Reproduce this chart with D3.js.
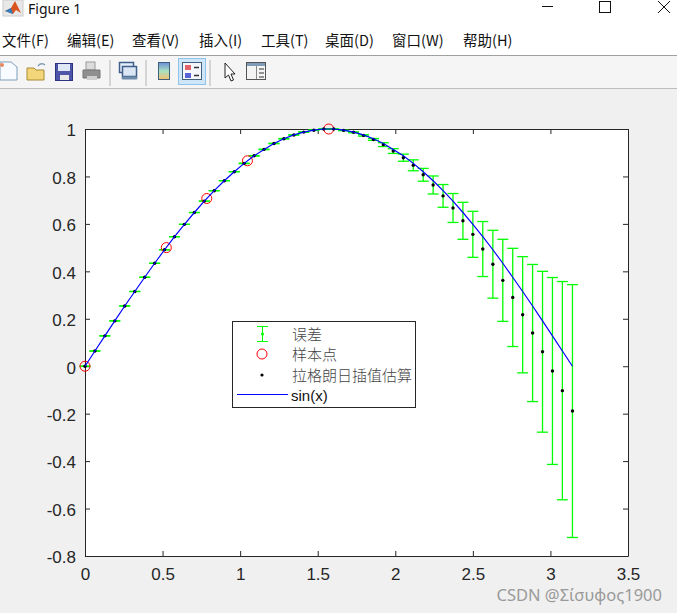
<!DOCTYPE html>
<html>
<head>
<meta charset="utf-8">
<script src="https://cdn.jsdelivr.net/npm/d3@7"></script>
<style>
    html, body { margin: 0; padding: 0; background: #f0f0f0; overflow: hidden; }
    svg { display: block; }
    .chrome { font-family: "Noto Sans CJK SC", "Noto Sans", sans-serif; font-size: 14.5px; fill: #111; }
    .tick text { font-family: "Liberation Sans", sans-serif; font-size: 17px; fill: #262626; }
</style>
</head>
<body>
<svg id="figure" width="677" height="613"></svg>
<script>
    const menuLabels = ['文件(F)', '编辑(E)', '查看(V)', '插入(I)', '工具(T)', '桌面(D)', '窗口(W)', '帮助(H)'];
    const menuLefts = [2, 67, 132, 199, 261, 325, 392, 463];
    const xTicks = [0, 0.5, 1, 1.5, 2, 2.5, 3, 3.5];
    const yTicks = [-0.8, -0.6, -0.4, -0.2, 0, 0.2, 0.4, 0.6, 0.8, 1];
    const legendLabels = ['误差', '样本点', '拉格朗日插值估算', 'sin(x)'];

    const sampleX = [0, 0.524, 0.785, 1.047, 1.571];
    const sampleY = [0, 0.5, 0.707, 0.866, 1];

    const curveX = [0, 0.064, 0.128, 0.192, 0.256, 0.321, 0.385, 0.449, 0.513, 0.577,
        0.641, 0.705, 0.769, 0.833, 0.898, 0.962, 1.026, 1.090, 1.154, 1.218,
        1.282, 1.346, 1.410, 1.475, 1.539, 1.603, 1.667, 1.731, 1.795, 1.859,
        1.923, 1.987, 2.052, 2.116, 2.180, 2.244, 2.308, 2.372, 2.436, 2.500,
        2.564, 2.629, 2.693, 2.757, 2.821, 2.885, 2.949, 3.013, 3.077, 3.142];
    const sinY = [0, 0.064, 0.128, 0.191, 0.254, 0.315, 0.375, 0.434, 0.491, 0.546,
        0.598, 0.648, 0.696, 0.740, 0.782, 0.820, 0.855, 0.887, 0.914, 0.939,
        0.959, 0.975, 0.987, 0.995, 1.000, 1.000, 0.995, 0.987, 0.975, 0.959,
        0.939, 0.914, 0.887, 0.855, 0.820, 0.782, 0.740, 0.696, 0.648, 0.598,
        0.546, 0.491, 0.434, 0.375, 0.315, 0.254, 0.191, 0.128, 0.064, 0];
    const estimateY = [0, 0.064, 0.128, 0.191, 0.254, 0.315, 0.375, 0.434, 0.491, 0.546,
        0.598, 0.648, 0.696, 0.740, 0.782, 0.820, 0.855, 0.887, 0.914, 0.939,
        0.959, 0.975, 0.987, 0.995, 1.000, 1.000, 0.994, 0.986, 0.973, 0.956,
        0.934, 0.907, 0.879, 0.847, 0.807, 0.764, 0.718, 0.667, 0.613, 0.556,
        0.494, 0.430, 0.362, 0.290, 0.217, 0.140, 0.061, -0.020, -0.103, -0.189];
    const errorY = [0, 0, 0, 0, 0, 0, 0, 0, 0, 0,
        0, 0, 0, 0, 0, 0, 0.001, 0.001, 0.001, 0.001,
        0.001, 0.001, 0.001, 0.001, 0.001, 0.001, 0.001, 0.002, 0.003, 0.004,
        0.008, 0.010, 0.015, 0.023, 0.027, 0.038, 0.048, 0.061, 0.078, 0.097,
        0.116, 0.143, 0.173, 0.207, 0.245, 0.289, 0.339, 0.394, 0.460, 0.533];

    const svg = d3.select('#figure');

    const x = d3.scaleLinear().domain([0, 3.5]).range([85, 628]);
    const y = d3.scaleLinear().domain([-0.8, 1]).range([556, 129]);

    function drawChrome() {
        svg.append('rect').attr('width', 677).attr('height', 55).attr('fill', '#fff');
        svg.append('rect').attr('y', 55).attr('width', 677).attr('height', 33).attr('fill', '#f5f5f5');
        svg.append('rect').attr('y', 55).attr('width', 677).attr('height', 1).attr('fill', '#a0a0a0');
        svg.append('rect').attr('y', 88).attr('width', 677).attr('height', 1).attr('fill', '#bdbdbd');

        // matlab logo
        svg.append('rect').attr('x', 3).attr('y', 0).attr('width', 20).attr('height', 16).attr('fill', '#e8e8e8').attr('stroke', '#ccc');
        svg.append('path').attr('d', 'M5 11 L11 8 L15 1 L21 13 L16 10 L13 14 Z').attr('fill', '#d9541e');
        svg.append('path').attr('d', 'M5 11 L11 8 L13 14 Z').attr('fill', '#2f7fc0');

        svg.append('text').attr('class', 'chrome').attr('x', 28).attr('y', 14).style('font-family', '"Noto Sans", sans-serif').style('font-size', '14px').text('Figure 1');

        svg.selectAll('.menu').data(menuLabels).join('text')
            .attr('class', 'chrome menu')
            .attr('x', function(d, i) { return menuLefts[i]; })
            .attr('y', 46)
            .text(function(d) { return d; });

        // window buttons
        svg.append('path').attr('d', 'M542 6.5 H553').attr('stroke', '#111').attr('fill', 'none');
        svg.append('rect').attr('x', 599.5).attr('y', 1.5).attr('width', 11).attr('height', 11).attr('stroke', '#111').attr('fill', 'none');
        svg.append('path').attr('d', 'M658 1 L670 13 M670 1 L658 13').attr('stroke', '#111').attr('fill', 'none');

        // toolbar
        svg.append('rect').attr('x', 178.5).attr('y', 58.5).attr('width', 27).attr('height', 26).attr('fill', '#cfe6f8').attr('stroke', '#8cc4ee');
        svg.selectAll('.sep').data([109.5, 145.5, 209.5]).join('rect')
            .attr('class', 'sep').attr('x', function(d) { return d; }).attr('y', 60).attr('width', 1).attr('height', 26).attr('fill', '#b4b4b4');

        svg.append('path').attr('d', 'M0 62 H11 L17 67 V80 H0 Z').attr('fill', '#f8fbff').attr('stroke', '#7f9db9');
        svg.append('circle').attr('cx', 2).attr('cy', 65).attr('r', 2).attr('fill', '#e9885c');
        svg.append('path').attr('d', 'M27 68 H34 L36 70 H44 V80 H27 Z').attr('fill', '#f3d679').attr('stroke', '#a98a34');
        svg.append('path').attr('d', 'M38 66 Q41 62 45 65').attr('fill', 'none').attr('stroke', '#8aa0b8').attr('stroke-width', 1.5);
        svg.append('rect').attr('x', 55.5).attr('y', 63.5).attr('width', 17).attr('height', 17).attr('fill', '#4e55a8').attr('stroke', '#2e3380');
        svg.append('rect').attr('x', 58).attr('y', 64).attr('width', 12).attr('height', 7).attr('fill', '#dfe6f5');
        svg.append('rect').attr('x', 60).attr('y', 75).attr('width', 9).attr('height', 5).attr('fill', '#e8e8e8');
        svg.append('rect').attr('x', 86).attr('y', 62).attr('width', 9).attr('height', 8).attr('fill', '#dcdcdc').attr('stroke', '#999');
        svg.append('path').attr('d', 'M83 70 H100 V78 H83 Z').attr('fill', '#8f8f8f').attr('stroke', '#777');
        svg.append('rect').attr('x', 87).attr('y', 76).attr('width', 10).attr('height', 4).attr('fill', '#cfcfcf');
        svg.append('rect').attr('x', 119.5).attr('y', 62.5).attr('width', 14).attr('height', 10).attr('fill', '#e6eef8').attr('stroke', '#3f5f8a').attr('stroke-width', 1.5);
        svg.append('rect').attr('x', 122.5).attr('y', 66.5).attr('width', 14).attr('height', 10).attr('fill', '#dbe6f4').attr('stroke', '#3f5f8a').attr('stroke-width', 1.5);
        svg.append('path').attr('d', 'M123 78 H136').attr('stroke', '#6f8cae').attr('stroke-width', 3).attr('stroke-linecap', 'round');

        const barGrad = svg.append('defs').append('linearGradient').attr('id', 'barGrad').attr('x1', 0).attr('y1', 0).attr('x2', 0).attr('y2', 1);
        barGrad.append('stop').attr('offset', '0%').attr('stop-color', '#6a8fd8');
        barGrad.append('stop').attr('offset', '50%').attr('stop-color', '#a8e0c0');
        barGrad.append('stop').attr('offset', '100%').attr('stop-color', '#f3c070');
        svg.append('rect').attr('x', 158.5).attr('y', 62.5).attr('width', 11).attr('height', 17).attr('fill', 'url(#barGrad)').attr('stroke', '#3f5f7a');

        svg.append('rect').attr('x', 182.5).attr('y', 62.5).attr('width', 19).attr('height', 17).attr('fill', '#f4f7fb').attr('stroke', '#3f5f7a');
        svg.append('rect').attr('x', 185).attr('y', 65).attr('width', 6).attr('height', 5).attr('fill', '#e2626a');
        svg.append('rect').attr('x', 185).attr('y', 73).attr('width', 6).attr('height', 5).attr('fill', '#5a62d8');
        svg.append('path').attr('d', 'M194 67.5 H199 M194 75.5 H199').attr('stroke', '#333').attr('stroke-width', 1.5);

        svg.append('path').attr('d', 'M225 63 V78 L228.5 75 L231 81 L233.5 80 L231 74 L235 74 Z').attr('fill', '#fff').attr('stroke', '#222');
        svg.append('rect').attr('x', 246.5).attr('y', 62.5).attr('width', 19).attr('height', 17).attr('fill', '#f4f4f4').attr('stroke', '#555');
        svg.append('rect').attr('x', 247).attr('y', 63).attr('width', 18).attr('height', 3).attr('fill', '#7f9db9');
        svg.append('path').attr('d', 'M256.5 66 V79').attr('stroke', '#888');
        svg.append('path').attr('d', 'M259 69 H264 M259 73 H264 M259 77 H264').attr('stroke', '#333');
    }

    function drawAxes() {
        svg.append('rect').attr('x', 85).attr('y', 129).attr('width', 543).attr('height', 427).attr('fill', '#fff');

        var fmt = function(d) { return String(d); };
        var bottom = svg.append('g').attr('transform', 'translate(0,556)')
            .call(d3.axisBottom(x).tickValues(xTicks).tickFormat(fmt).tickSizeInner(-5).tickSizeOuter(0).tickPadding(12));
        var left = svg.append('g').attr('transform', 'translate(85,0)')
            .call(d3.axisLeft(y).tickValues(yTicks).tickFormat(fmt).tickSizeInner(-5).tickSizeOuter(0).tickPadding(9));
        var top = svg.append('g').attr('transform', 'translate(0,129)')
            .call(d3.axisTop(x).tickValues(xTicks).tickFormat('').tickSizeInner(-5).tickSizeOuter(0));
        var right = svg.append('g').attr('transform', 'translate(628,0)')
            .call(d3.axisRight(y).tickValues(yTicks).tickFormat('').tickSizeInner(-5).tickSizeOuter(0));
        [bottom, left, top, right].forEach(function(a) {
            a.selectAll('.domain, line').attr('stroke', '#262626');
        });
        left.selectAll('.tick text').attr('dy', '0.4em');
    }

    function drawErrorBar(group, bx, yLow, yHigh, cap) {
        var color = '#00ff00';
        group.append('line').attr('x1', bx).attr('x2', bx).attr('y1', yLow).attr('y2', yHigh).attr('stroke', color);
        group.append('line').attr('x1', bx - cap).attr('x2', bx + cap).attr('y1', yLow).attr('y2', yLow).attr('stroke', color);
        group.append('line').attr('x1', bx - cap).attr('x2', bx + cap).attr('y1', yHigh).attr('y2', yHigh).attr('stroke', color);
    }

    function drawSeries() {
        var bars = svg.append('g').attr('stroke-width', 1.3);
        curveX.forEach(function(d, i) {
            drawErrorBar(bars, x(d), y(estimateY[i] - errorY[i]), y(estimateY[i] + errorY[i]), 5.5);
        });

        svg.selectAll('.sample').data(sampleX).join('circle')
            .attr('class', 'sample')
            .attr('cx', function(d) { return x(d); })
            .attr('cy', function(d, i) { return y(sampleY[i]); })
            .attr('r', 5)
            .attr('fill', 'none')
            .attr('stroke', '#ff0000');

        svg.selectAll('.estimate').data(curveX).join('circle')
            .attr('class', 'estimate')
            .attr('cx', function(d) { return x(d); })
            .attr('cy', function(d, i) { return y(estimateY[i]); })
            .attr('r', 1.7)
            .attr('fill', '#000');

        var sinLine = d3.line()
            .x(function(d) { return x(d); })
            .y(function(d, i) { return y(sinY[i]); });
        svg.append('path').datum(curveX)
            .attr('d', sinLine)
            .attr('fill', 'none')
            .attr('stroke', '#0000ff')
            .attr('stroke-width', 1.2);
    }

    function drawLegend() {
        var g = svg.append('g');
        var rowY = [334, 354, 375, 396];
        g.append('rect').attr('x', 232.5).attr('y', 321.5).attr('width', 183).attr('height', 86)
            .attr('fill', '#fff').attr('stroke', '#262626');

        drawErrorBar(g, 262.5, rowY[0] + 7.5, rowY[0] - 7.5, 5.5);
        g.append('circle').attr('cx', 262.5).attr('cy', rowY[0]).attr('r', 1.5).attr('fill', '#00ff00');
        g.append('circle').attr('cx', 262).attr('cy', rowY[1]).attr('r', 5).attr('fill', 'none').attr('stroke', '#ff0000');
        g.append('circle').attr('cx', 262).attr('cy', rowY[2]).attr('r', 1.6).attr('fill', '#000');
        g.append('line').attr('x1', 237).attr('x2', 288).attr('y1', rowY[3] - 1.5).attr('y2', rowY[3] - 1.5).attr('stroke', '#0000ff');

        g.selectAll('.entry').data(legendLabels).join('text')
            .attr('class', 'entry')
            .attr('x', function(d, i) { return i === 3 ? 291 : 292; })
            .attr('y', function(d, i) { return rowY[i] + (i === 3 ? 5 : 6); })
            .style('font-family', function(d, i) { return i === 3 ? '"Liberation Sans", sans-serif' : '"Noto Sans CJK SC", sans-serif'; })
            .style('font-size', function(d, i) { return i === 3 ? '15px' : '15px'; })
            .style('font-weight', function(d, i) { return i === 3 ? 400 : 300; })
            .attr('fill', function(d, i) { return i === 3 ? '#111' : '#444'; })
            .text(function(d) { return d; });
    }

    drawChrome();
    drawAxes();
    drawSeries();
    drawLegend();

    svg.append('text')
        .attr('x', 662).attr('y', 601)
        .attr('text-anchor', 'end')
        .style('font-family', '"Noto Sans", sans-serif')
        .style('font-size', '16.5px')
        .attr('fill', '#9a9a9a')
        .text('CSDN @Σίσυφος1900');
</script>
</body>
</html>
